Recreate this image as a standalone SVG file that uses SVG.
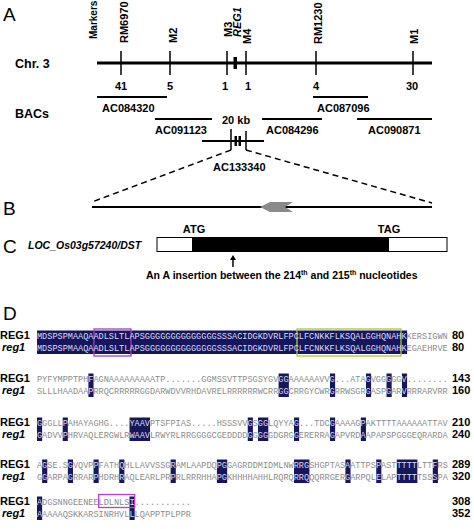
<svg xmlns="http://www.w3.org/2000/svg" width="474" height="529" viewBox="0 0 474 529" font-family="'Liberation Sans', Arial, sans-serif">
<style>
.pl{font-size:19px}
.b{font-weight:bold;font-size:11px}
.ln{stroke:#000;stroke-width:2;fill:none}
.tk{stroke:#000;stroke-width:1.5}
.dash{stroke:#000;stroke-width:1.5;stroke-dasharray:6 4;fill:none}
.seq{font-family:"Liberation Mono","Courier New",monospace;font-size:9.5px;fill:#8c8c8c}
.seq .w{fill:#dcdcf4}
.hl{fill:#16165c}
.nm{font-weight:bold;font-size:11px}
.nmi{font-weight:bold;font-style:italic;font-size:11px}
.num{font-weight:bold;font-size:11px}
</style>
<rect width="474" height="529" fill="#fff"/>

<g id="panelA">
<text class="pl" x="3" y="21">A</text>
<text class="b" x="15" y="68" style="font-size:12.5px">Chr. 3</text>
<text class="b" x="15" y="118" style="font-size:12.5px">BACs</text>
</g>

<g id="marker-labels" class="b">
<text transform="translate(97,39) rotate(-90)" style="font-size:10px">Markers</text>
<text transform="translate(128,43) rotate(-90)">RM6970</text>
<text transform="translate(177,43) rotate(-90)">M2</text>
<text transform="translate(232,37) rotate(-90)">M3</text>
<text transform="translate(241,37) rotate(-90)" font-style="italic">REG1</text>
<text transform="translate(251,44) rotate(-90)">M4</text>
<text transform="translate(322,44) rotate(-90)">RM1230</text>
<text transform="translate(418,44) rotate(-90)">M1</text>
</g>

<g id="chr3">
<line x1="97" y1="63" x2="432" y2="63" stroke="#000" stroke-width="3"/>
<line class="tk" x1="121" y1="51" x2="121" y2="75"/>
<line class="tk" x1="170" y1="51" x2="170" y2="75"/>
<line class="tk" x1="227" y1="51" x2="227" y2="75"/>
<line class="tk" x1="246" y1="51" x2="246" y2="75"/>
<line class="tk" x1="316" y1="51" x2="316" y2="75"/>
<line class="tk" x1="413" y1="51" x2="413" y2="75"/>
<rect x="233.5" y="57" width="3.5" height="12" fill="#000"/>
<g class="b" text-anchor="middle">
<text x="121" y="90">41</text>
<text x="170" y="90">5</text>
<text x="225" y="90">1</text>
<text x="248" y="90">1</text>
<text x="316" y="90">4</text>
<text x="412" y="90">30</text>
</g>
</g>

<g id="bacs">
<line class="ln" x1="97" y1="97" x2="167" y2="97"/>
<text class="b" x="102" y="112">AC084320</text>
<line class="ln" x1="313" y1="97" x2="368" y2="97"/>
<text class="b" x="317" y="112">AC087096</text>
<line class="ln" x1="155" y1="119" x2="212" y2="119"/>
<text class="b" x="155" y="134">AC091123</text>
<line class="ln" x1="262" y1="119" x2="322" y2="119"/>
<text class="b" x="266" y="134">AC084296</text>
<line class="ln" x1="357" y1="119" x2="432" y2="119"/>
<text class="b" x="368" y="134">AC090871</text>
<text class="b" x="222" y="124">20 kb</text>
</g>

<g id="ac133340">
<line class="ln" x1="202" y1="141" x2="264" y2="141"/>
<line class="tk" x1="231" y1="129" x2="231" y2="150"/>
<line class="tk" x1="246" y1="131" x2="246" y2="150"/>
<rect x="234.5" y="136" width="2.5" height="10" fill="#000"/>
<rect x="238.5" y="136" width="2.5" height="10" fill="#000"/>
<text class="b" x="213" y="171">AC133340</text>
</g>

<g id="connectors">
<line class="dash" x1="231" y1="150" x2="92" y2="202"/>
<line class="dash" x1="246" y1="150" x2="432" y2="203"/>
</g>

<g id="panelB">
<text class="pl" x="3" y="215">B</text>
<line class="ln" x1="92" y1="207" x2="432" y2="207"/>
<polygon points="260,207 270,202 293,202 285,207 293,212 270,212" fill="#8a8a8a"/>
</g>

<g id="panelC">
<text class="pl" x="3" y="253">C</text>
<text class="b" x="28" y="249" font-style="italic" style="font-size:10.5px">LOC_Os03g57240/DST</text>
<text class="b" x="194" y="233" text-anchor="middle">ATG</text>
<text class="b" x="389" y="233" text-anchor="middle">TAG</text>
<rect x="157" y="237.5" width="290" height="14" fill="#fff" stroke="#000" stroke-width="1"/>
<rect x="192" y="237.5" width="197" height="14" fill="#000"/>
<line x1="233" y1="259" x2="233" y2="267" stroke="#000" stroke-width="1.5"/>
<polygon points="233,255 230,260 236,260" fill="#000"/>
<text class="b" x="146" y="279" style="font-size:10.5px">An A insertion between the 214<tspan dy="-4" font-size="7">th</tspan><tspan dy="4"> and 215</tspan><tspan dy="-4" font-size="7">th</tspan><tspan dy="4"> nucleotides</tspan></text>
</g>

<g id="panelD">
<text class="pl" x="3" y="320">D</text>
<g id="highlights" class="hl">
<rect x="37" y="330.5" width="370.08" height="23.5"/>
<rect x="88.4" y="373.5" width="5.14" height="23.5"/>
<rect x="278.58" y="373.5" width="10.28" height="23.5"/>
<rect x="329.98" y="373.5" width="5.14" height="23.5"/>
<rect x="365.96" y="373.5" width="5.14" height="23.5"/>
<rect x="386.52" y="373.5" width="5.14" height="23.5"/>
<rect x="401.94" y="373.5" width="5.14" height="23.5"/>
<rect x="37" y="417.5" width="5.14" height="23.5"/>
<rect x="62.7" y="417.5" width="5.14" height="23.5"/>
<rect x="129.52" y="417.5" width="20.56" height="23.5"/>
<rect x="247.74" y="417.5" width="5.14" height="23.5"/>
<rect x="258.02" y="417.5" width="10.28" height="23.5"/>
<rect x="294" y="417.5" width="5.14" height="23.5"/>
<rect x="329.98" y="417.5" width="5.14" height="23.5"/>
<rect x="360.82" y="417.5" width="5.14" height="23.5"/>
<rect x="42.14" y="459.5" width="5.14" height="23.5"/>
<rect x="67.84" y="459.5" width="5.14" height="23.5"/>
<rect x="93.54" y="459.5" width="5.14" height="23.5"/>
<rect x="119.24" y="459.5" width="5.14" height="23.5"/>
<rect x="170.64" y="459.5" width="5.14" height="23.5"/>
<rect x="216.9" y="459.5" width="10.28" height="23.5"/>
<rect x="294" y="459.5" width="15.42" height="23.5"/>
<rect x="345.4" y="459.5" width="5.14" height="23.5"/>
<rect x="376.24" y="459.5" width="5.14" height="23.5"/>
<rect x="396.8" y="459.5" width="20.56" height="23.5"/>
<rect x="432.78" y="459.5" width="5.14" height="23.5"/>
<rect x="37" y="496.5" width="5.14" height="23.5"/>
<rect x="129.52" y="496.5" width="5.14" height="23.5"/>
</g>
<g id="motif-boxes" fill="none" stroke-width="1.3">
<rect x="94" y="329" width="37" height="27" stroke="#a83cc4"/>
<rect x="297" y="329" width="104" height="27" stroke="#a8c838"/>
<rect x="98.7" y="494.5" width="36" height="13" stroke="#c838d0"/>
</g>
<g class="seq" transform="translate(37,0) scale(0.90196,1) translate(-37,0)">
<text x="37" y="339"><tspan class="w">MDSPSPMAAQAADLSLTLAPSGGGGGGGGGGGGGGSSSACIDGKDVRLFPCLFCNKKFLKSQALGGHQNAHK</tspan>KERSIGWN</text>
<text x="37" y="351"><tspan class="w">MDSPSPMAAQAADLSLTLAPSGGGGGGGGGGGGGGSSSACIDGKDVRLFPCLFCNKKFLKSQALGGHQNAHK</tspan>EGAEHRVE</text>
<text x="37" y="382">PYFYMPPTPH<tspan class="w">F</tspan>AGNAAAAAAAAATP.......GGMSSVTTPSGSYGV<tspan class="w">GG</tspan>AAAAAAVV<tspan class="w">G</tspan>...ATA<tspan class="w">G</tspan>VGG<tspan class="w">G</tspan>GG<tspan class="w">V</tspan>........</text>
<text x="37" y="394">SLLLHAADAA<tspan class="w">P</tspan>RRQCRRRRRGGDARWDVVRHDAVRELRRRRRRWCRR<tspan class="w">GG</tspan>CRRGYCWR<tspan class="w">G</tspan>RRWSGR<tspan class="w">G</tspan>ASP<tspan class="w">G</tspan>AR<tspan class="w">V</tspan>RRRARVRR</text>
<text x="37" y="426"><tspan class="w">G</tspan>GGLL<tspan class="w">P</tspan>AHAYAGHG....<tspan class="w">YAAV</tspan>PTSFPIAS.....HSSSVV<tspan class="w">G</tspan>S<tspan class="w">GG</tspan>LQYYA<tspan class="w">G</tspan>...TDC<tspan class="w">G</tspan>AAAAG<tspan class="w">P</tspan>AKTTTTAAAAAATTAV</text>
<text x="37" y="438"><tspan class="w">G</tspan>ADVV<tspan class="w">P</tspan>HRVAQLERGWLR<tspan class="w">WAAV</tspan>LRWYRLRRGGGGCGEDDDD<tspan class="w">G</tspan>G<tspan class="w">GG</tspan>GDGRG<tspan class="w">G</tspan>ERERRA<tspan class="w">G</tspan>APVRD<tspan class="w">A</tspan>APAPSPGGGEQRARDA</text>
<text x="37" y="468">A<tspan class="w">G</tspan>SE.S<tspan class="w">G</tspan>VQVP<tspan class="w">P</tspan>FATH<tspan class="w">Q</tspan>HLLAVVSSG<tspan class="w">R</tspan>AMLAAPDQ<tspan class="w">PG</tspan>GAGRDDMIDMLNW<tspan class="w">RRG</tspan>SHGPTAS<tspan class="w">A</tspan>ATTPS<tspan class="w">P</tspan>AST<tspan class="w">TTTT</tspan>LTT<tspan class="w">F</tspan>RS</text>
<text x="37" y="480">G<tspan class="w">G</tspan>ARPA<tspan class="w">G</tspan>RRAR<tspan class="w">P</tspan>HDRH<tspan class="w">R</tspan>AQLEARLPR<tspan class="w">P</tspan>RLRRRHHA<tspan class="w">PG</tspan>KHHHHAHHLRQRQ<tspan class="w">RRQ</tspan>QQRRGER<tspan class="w">G</tspan>ARPQL<tspan class="w">E</tspan>LAP<tspan class="w">TTTT</tspan>TSS<tspan class="w">S</tspan>PA</text>
<text x="37" y="505"><tspan class="w">A</tspan>DGSNNGEENEELDLNLS<tspan class="w">I</tspan>...........</text>
<text x="37" y="517"><tspan class="w">A</tspan>AAAAQSKKARSINRHVL<tspan class="w">L</tspan>LQAPPTPLPPR</text>
</g>
<g id="row-labels">
<text class="nm" x="0" y="339">REG1</text>
<text class="nmi" x="2" y="351">reg1</text>
<text class="nm" x="0" y="382">REG1</text>
<text class="nmi" x="2" y="394">reg1</text>
<text class="nm" x="0" y="426">REG1</text>
<text class="nmi" x="2" y="438">reg1</text>
<text class="nm" x="0" y="468">REG1</text>
<text class="nmi" x="2" y="480">reg1</text>
<text class="nm" x="0" y="505">REG1</text>
<text class="nmi" x="2" y="517">reg1</text>
</g>
<g id="row-numbers" class="num">
<text x="452" y="339">80</text>
<text x="452" y="351">80</text>
<text x="452" y="382">143</text>
<text x="452" y="394">160</text>
<text x="452" y="426">210</text>
<text x="452" y="438">240</text>
<text x="452" y="468">289</text>
<text x="452" y="480">320</text>
<text x="452" y="505">308</text>
<text x="452" y="517">352</text>
</g>
</g>
</svg>
